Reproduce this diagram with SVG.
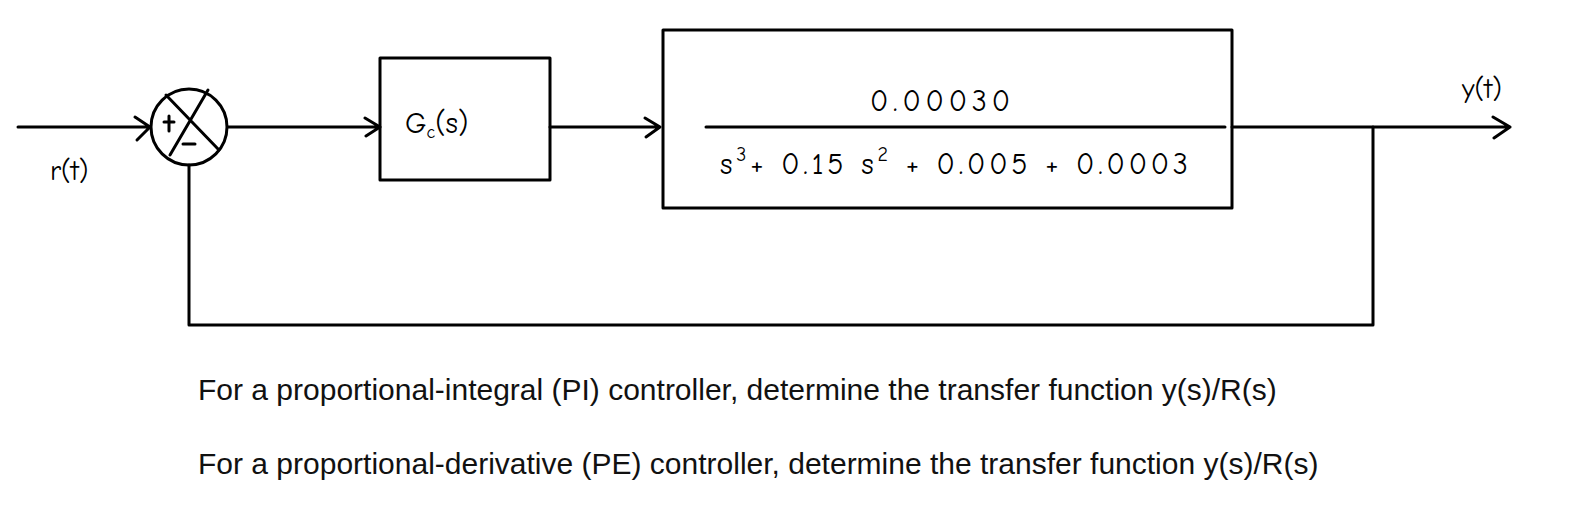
<svg xmlns="http://www.w3.org/2000/svg" width="1591" height="522" viewBox="0 0 1591 522">
<style>
.l{stroke:#000;stroke-width:3;fill:none;stroke-linecap:round;stroke-linejoin:round}
.h{font-family:"Comic Neue","DejaVu Sans",sans-serif;fill:#000}
.t{font-family:"Helvetica","Liberation Sans",Arial,sans-serif;font-size:30px;fill:#111}
</style>
<rect width="1591" height="522" fill="#fff"/>
<g id="connectors">
<path class="l" d="M18 127H150M135 117L150 127L137 140"/>
<path class="l" d="M228 127H380M365 118L380 127L366 136"/>
<path class="l" d="M550 127H660M645 118L660 127L646 137"/>
<path class="l" d="M1232 127H1510M1493 117L1510 127L1494 138"/>
<path class="l" d="M1373 127V325H189V165"/>
</g>
<g id="sum">
<circle class="l" cx="189" cy="127" r="38"/>
<path class="l" d="M166 95L219 150M208 90L170 155"/>
<path class="l" d="M164 122H174M169 116V131M183 144H195"/>
</g>
<g id="controller">
<rect class="l" x="380" y="58" width="170" height="122"/>
<text class="h" x="405" y="133" font-size="30">G<tspan font-size="18" dy="5">c</tspan><tspan dy="-5">(s)</tspan></text>
</g>
<g id="plant">
<rect class="l" x="663" y="30" width="569" height="178"/>
<path class="l" d="M706 127H1225"/>
<text class="h" x="940" y="111" font-size="30" text-anchor="middle" textLength="140">0.00030</text>
<text class="h" x="720" y="174" font-size="30" textLength="468" lengthAdjust="spacing">s<tspan font-size="20" dy="-13">3</tspan><tspan dy="13">+ 0.15 s</tspan><tspan font-size="20" dy="-13">2</tspan><tspan dy="13"> + 0.005 + 0.0003</tspan></text>
</g>
<g id="labels">
<text class="h" x="50" y="180" font-size="28">r(t)</text>
<text class="h" x="1462" y="98" font-size="28">y(t)</text>
</g>
<text class="t" x="198" y="400">For a proportional-integral (PI) controller, determine the transfer function y(s)/R(s)</text>
<text class="t" x="198" y="474">For a proportional-derivative (PE) controller, determine the transfer function y(s)/R(s)</text>
</svg>
